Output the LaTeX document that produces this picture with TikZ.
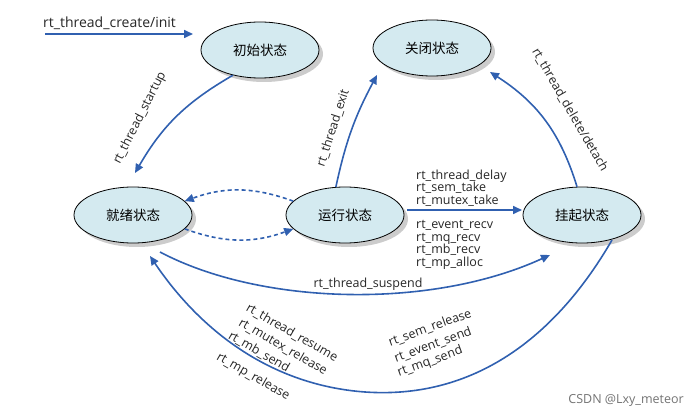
\documentclass[tikz,border=0pt]{standalone}
\usepackage{fontspec}
\setmainfont{Open Sans}
\newfontfamily\cjk{Noto Sans CJK SC}
\usetikzlibrary{shapes.geometric,shadows,arrows.meta}
\definecolor{ab}{HTML}{3060B0}
\definecolor{st}{HTML}{D4EAF0}
\tikzset{
 state/.style={ellipse,draw=black,thick,fill=st,minimum width=118pt,minimum height=56pt,font=\cjk\fontsize{13.5}{15}\selectfont,
   drop shadow={shadow xshift=4pt,shadow yshift=-4pt,fill=black!20,opacity=1}},
 arr/.style={draw=ab,line width=1.6pt,-{Triangle[length=9pt,width=8pt]}},
 darr/.style={arr,dashed,dash pattern=on 4pt off 3pt},
 lb/.style={font=\fontsize{12.5}{14.5}\selectfont,inner sep=0pt,text=black!85}
}
\begin{document}
\begin{tikzpicture}[x=1pt,y=-1pt]
\useasboundingbox (0,0) rectangle (692,419);
\node[state] (init) at (260,50) {初始状态};
\node[state] (close) at (432,48) {关闭状态};
\node[state] (ready) at (133,215) {就绪状态};
\node[state] (run) at (345,215) {运行状态};
\node[state] (susp) at (582,215) {挂起状态};
\coordinate (s) at (45,34);
\draw[arr] (s) -- (193,34);
\node[lb,anchor=south west,font=\fontsize{14}{16}\selectfont] at (43,30) {rt\_thread\_create/init};
\draw[arr] (init.223) to[bend right=15] (135,173);
\node[lb,rotate=63] at (140,118) {rt\_thread\_startup};
\draw[arr] (run.108) to[bend left=8] (377,75);
\node[lb,rotate=72] at (333,128) {rt\_thread\_exit};
\draw[arr] (susp.100) to[bend right=20] (490,72);
\node[lb,rotate=-60] at (570,110) {rt\_thread\_delete/detach};
\draw[darr] (run.165) to[bend right=20] (ready.15);
\draw[darr] (ready.-15) to[bend right=20] (run.195);
\draw[arr] (407,210) -- (522,210);
\node[lb,anchor=west,align=left] at (416,188) {rt\_thread\_delay\\[-2pt]rt\_sem\_take\\[-2pt]rt\_mutex\_take};
\node[lb,anchor=west,align=left] at (416,245) {rt\_event\_recv\\[-2pt]rt\_mq\_recv\\[-2pt]rt\_mb\_recv\\[-2pt]rt\_mp\_alloc};
\draw[arr] (160,252) .. controls (260,305) and (430,310) .. (550,255);
\node[lb] at (368,284) {rt\_thread\_suspend};
\draw[arr] (612,240) .. controls (560,330) and (480,400) .. (365,392) .. controls (270,385) and (200,330) .. (150,256);
\node[lb,rotate=-30] at (292,333) {rt\_thread\_resume};
\node[lb,rotate=-30] at (283,347) {rt\_mutex\_release};
\node[lb,rotate=-30] at (259,352) {rt\_mb\_send};
\node[lb,rotate=-30] at (253,377) {rt\_mp\_release};
\node[lb,rotate=20] at (430,328) {rt\_sem\_release};
\node[lb,rotate=20] at (433,345) {rt\_event\_send};
\node[lb,rotate=20] at (430,362) {rt\_mq\_send};
\node[lb,text=black!55,anchor=east] at (684,400) {CSDN @Lxy\_meteor};
\end{tikzpicture}
\end{document}
